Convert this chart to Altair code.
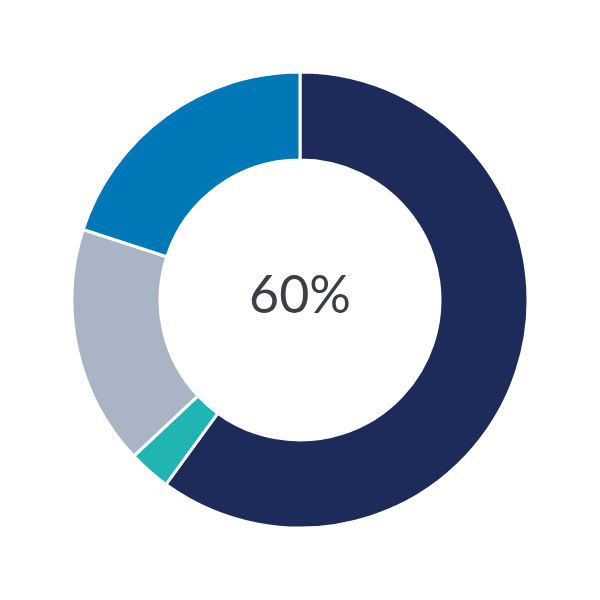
import altair as alt
import pandas as pd

categories = ["A", "B", "C", "D"]
values = [60, 3, 17, 20]
colors = ["#1c2b5a", "#20b5b3", "#a9b4c4", "#0077b6"]
center_label = ["60%"]

df = pd.DataFrame({"category": categories, "value": values, "order": list(range(len(categories)))})

arcs = alt.Chart(df).mark_arc(outerRadius=228, innerRadius=140, stroke="white", strokeWidth=3).encode(
    theta=alt.Theta("value:Q", stack=True),
    color=alt.Color("category:N", scale=alt.Scale(domain=categories, range=colors), legend=None),
    order=alt.Order("order:Q"),
)

text = alt.Chart(pd.DataFrame({"label": center_label})).mark_text(
    font="Lato", fontSize=52, fontWeight=400, color="#3a3f47", align="center", baseline="middle", dy=-3
).encode(text="label:N")

chart = alt.layer(arcs, text).properties(
    width=584, height=584, autosize=alt.AutoSizeParams(type="fit", contains="padding"), padding=0
).configure_view(stroke=None)

chart.save("out.html", embed_options={"renderer": "svg", "actions": False})
